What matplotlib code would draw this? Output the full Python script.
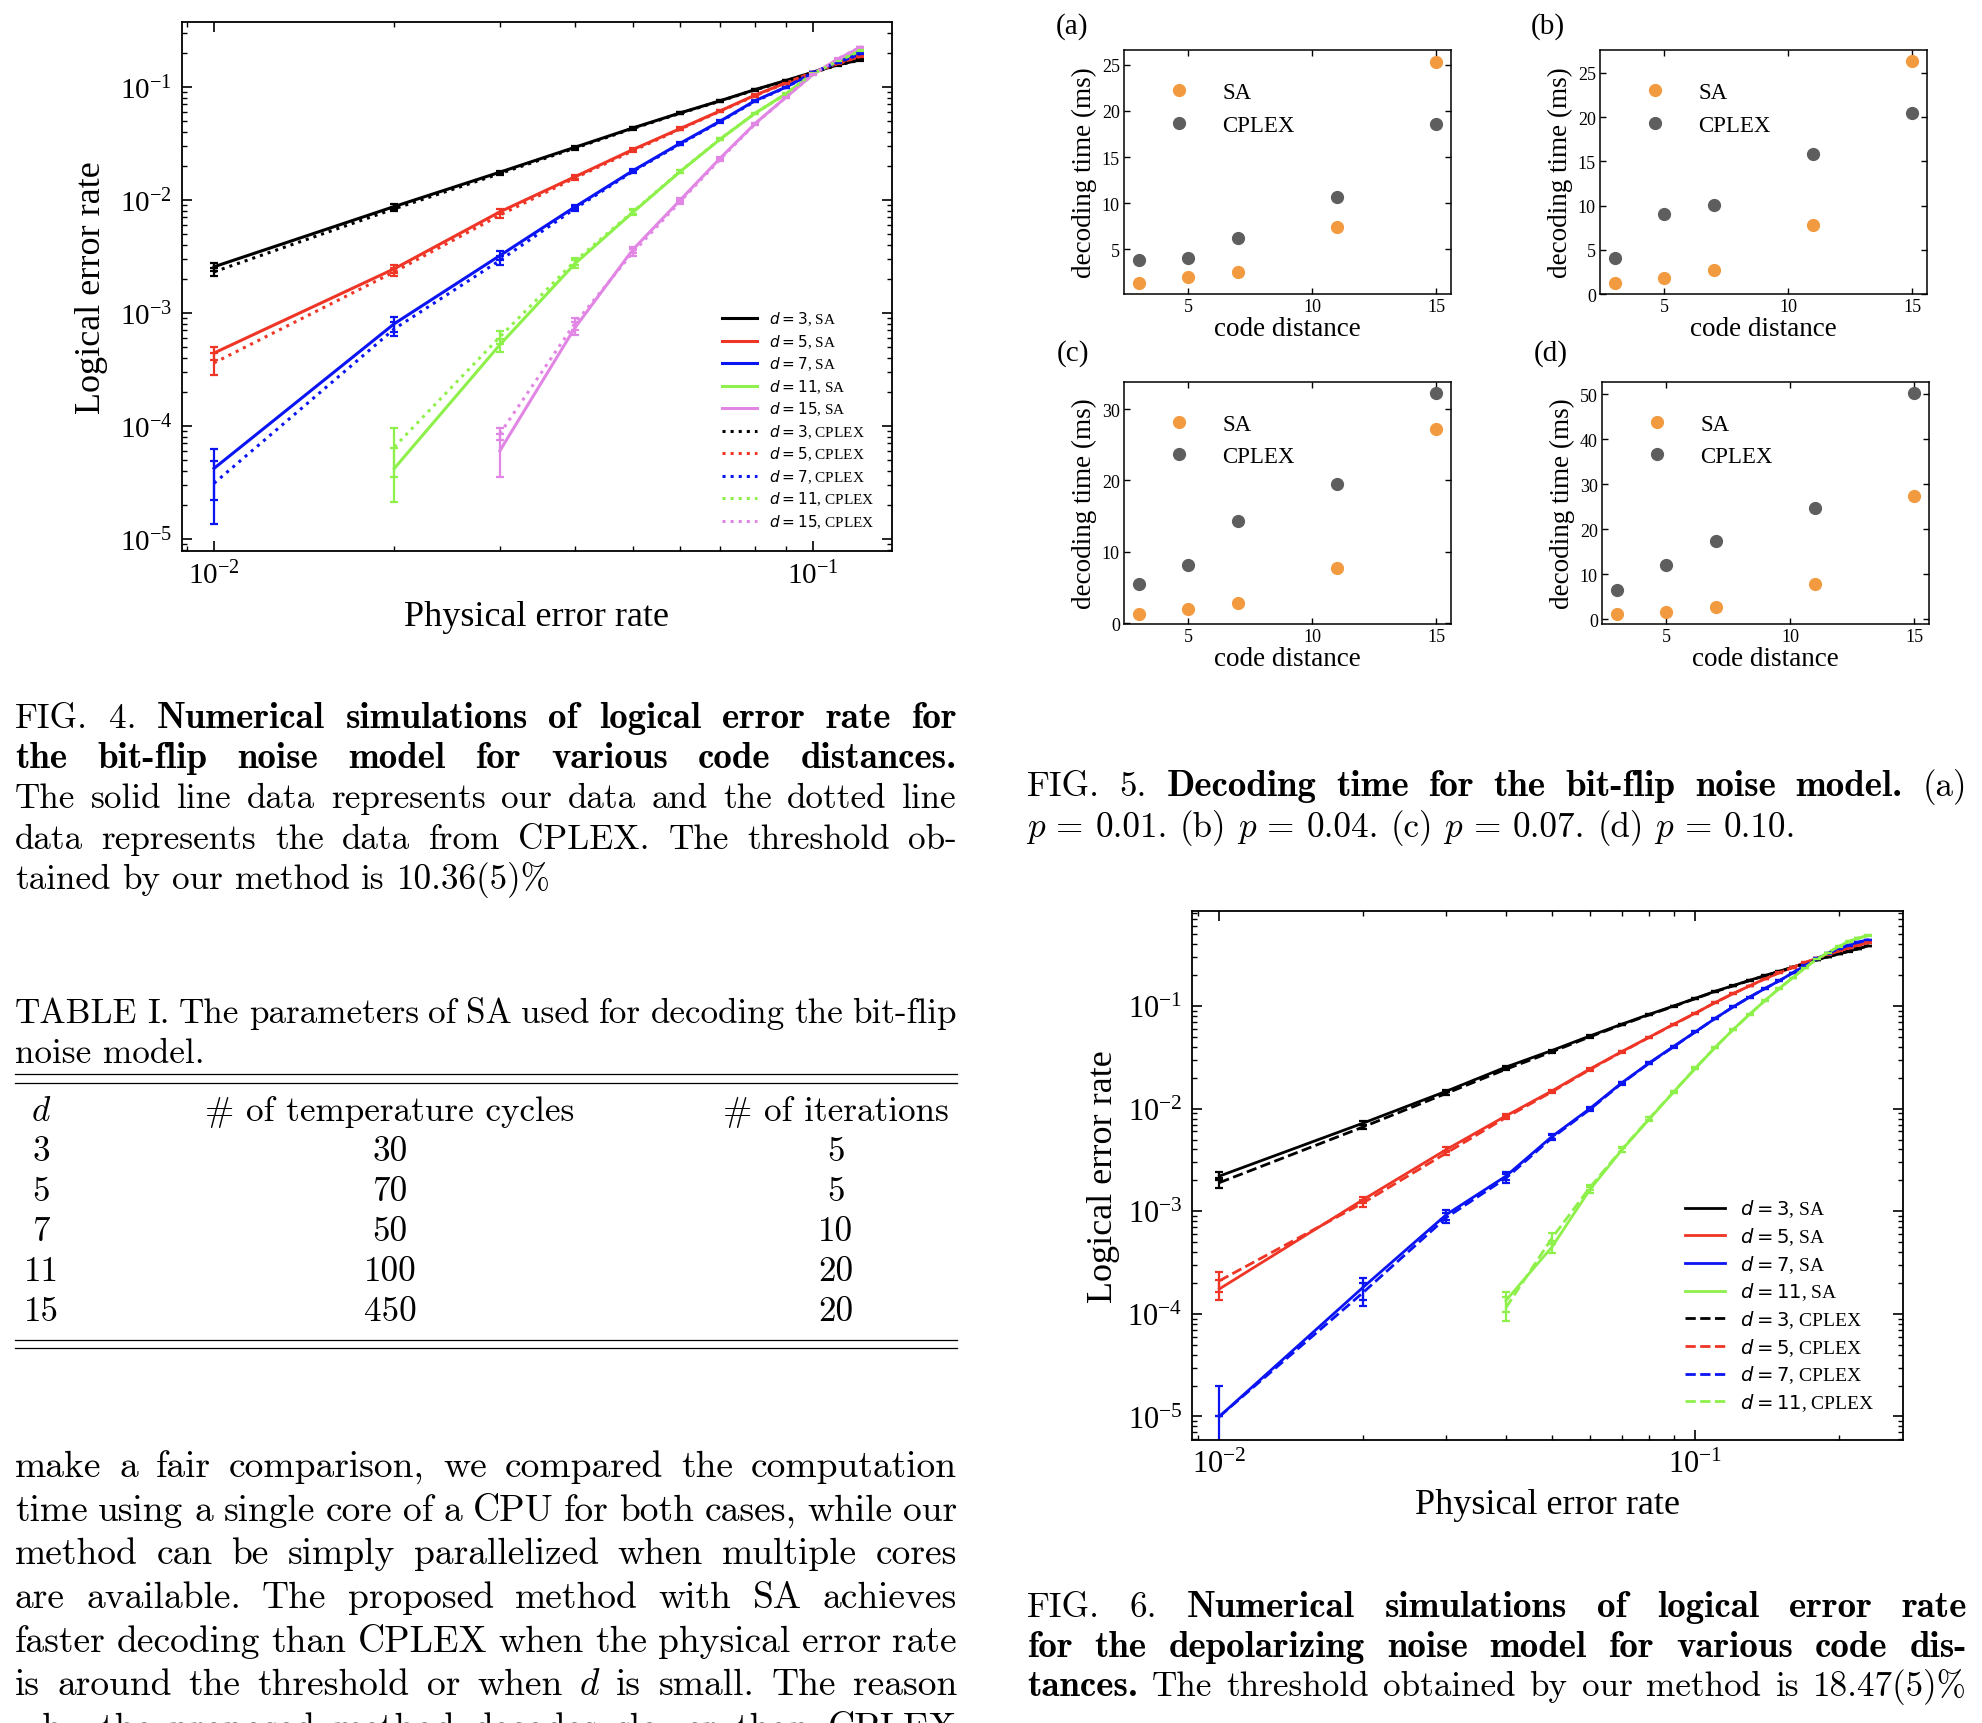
import numpy as np
import matplotlib
matplotlib.use('Agg')
import matplotlib.pyplot as plt
from matplotlib.ticker import LogLocator, NullFormatter, MultipleLocator, FixedLocator
from matplotlib.font_manager import FontProperties
from matplotlib.lines import Line2D

plt.rcParams['font.family'] = ['Liberation Serif', 'DejaVu Serif']

# ---------------- data: FIG. 4 (bit-flip) ----------------
p4 = [0.01, 0.02, 0.03, 0.04, 0.05, 0.06, 0.07, 0.08, 0.09, 0.10, 0.11, 0.12]
d4_list = [3, 5, 7, 11, 15]
f4_sa_d3 = [2.55e-3, 8.7e-3, 1.75e-2, 2.9e-2, 4.3e-2, 5.85e-2, 7.5e-2, 9.4e-2, 0.113, 0.134, 0.156, 0.173]
f4_sa_d5 = [4.4e-4, 2.45e-3, 7.8e-3, 1.59e-2, 2.77e-2, 4.25e-2, 6.1e-2, 8.4e-2, 0.1076, 0.134, 0.160, 0.186]
f4_sa_d7 = [4.2e-5, 8.0e-4, 3.2e-3, 8.6e-3, 1.8e-2, 3.15e-2, 4.95e-2, 7.5e-2, 0.0986, 0.133, 0.163, 0.195]
f4_sa_d11 = [4.2e-5, 5.2e-4, 2.7e-3, 7.7e-3, 1.77e-2, 3.43e-2, 5.8e-2, 8.6e-2, 0.130, 0.168, 0.208]
f4_sa_d15 = [6.0e-5, 7.3e-4, 3.6e-3, 9.9e-3, 2.33e-2, 4.7e-2, 8.0e-2, 0.128, 0.175, 0.223]
f4_cp_d3 = [2.3e-3, 8.3e-3, 1.7e-2, 2.85e-2, 4.25e-2, 5.8e-2, 7.45e-2, 9.35e-2, 0.112, 0.133, 0.155, 0.172]
f4_cp_d5 = [3.6e-4, 2.3e-3, 7.3e-3, 1.55e-2, 2.7e-2, 4.2e-2, 6.05e-2, 8.3e-2, 0.107, 0.133, 0.160, 0.185]
f4_cp_d7 = [3.1e-5, 7.2e-4, 2.9e-3, 8.3e-3, 1.77e-2, 3.1e-2, 4.9e-2, 7.4e-2, 0.098, 0.133, 0.164, 0.196]
f4_cp_d11 = [6.5e-5, 6.1e-4, 2.85e-3, 7.8e-3, 1.78e-2, 3.45e-2, 5.8e-2, 8.6e-2, 0.130, 0.169, 0.209]
f4_cp_d15 = [8.5e-5, 8.0e-4, 3.4e-3, 9.6e-3, 2.28e-2, 4.65e-2, 8.0e-2, 0.128, 0.176, 0.224]
f4_sa_e3 = [2e-4, 4e-4, 6e-4, 8e-4, 1e-3, 1.2e-3, 1.3e-3, 1.5e-3, 1.6e-3, 1.7e-3, 1.8e-3, 1.9e-3]
f4_sa_e5 = [6e-5, 2e-4, 4e-4, 6e-4, 8e-4, 1e-3, 1.2e-3, 1.4e-3, 1.6e-3, 1.7e-3, 1.8e-3, 1.9e-3]
f4_sa_e7 = [2e-5, 1.2e-4, 3e-4, 4e-4, 6e-4, 8e-4, 1e-3, 1.3e-3, 1.5e-3, 1.7e-3, 1.8e-3, 1.9e-3]
f4_sa_e11 = [2.1e-5, 7e-5, 2e-4, 4e-4, 6e-4, 8e-4, 1e-3, 1.3e-3, 1.6e-3, 1.8e-3, 1.9e-3]
f4_sa_e15 = [2.5e-5, 1e-4, 2.5e-4, 4e-4, 6e-4, 8e-4, 1.1e-3, 1.4e-3, 1.7e-3, 1.9e-3]
f4_cp_e3 = [2e-4, 4e-4, 6e-4, 8e-4, 1e-3, 1.2e-3, 1.3e-3, 1.5e-3, 1.6e-3, 1.7e-3, 1.8e-3, 1.9e-3]
f4_cp_e5 = [8e-5, 2e-4, 4e-4, 6e-4, 8e-4, 1e-3, 1.2e-3, 1.4e-3, 1.6e-3, 1.7e-3, 1.8e-3, 1.9e-3]
f4_cp_e7 = [1.75e-5, 1e-4, 2.5e-4, 4e-4, 6e-4, 8e-4, 1e-3, 1.3e-3, 1.5e-3, 1.7e-3, 1.8e-3, 1.9e-3]
f4_cp_e11 = [3e-5, 8e-5, 2e-4, 4e-4, 6e-4, 8e-4, 1e-3, 1.3e-3, 1.6e-3, 1.8e-3, 1.9e-3]
f4_cp_e15 = [1e-5, 1e-4, 2.5e-4, 4e-4, 6e-4, 8e-4, 1.1e-3, 1.4e-3, 1.7e-3, 1.9e-3]

# ---------------- data: FIG. 5 (decoding time, ms) ----------------
code_d = [3, 5, 7, 11, 15]
panel_tags = ['(a)', '(b)', '(c)', '(d)']
t_sa_a = [1.36, 2.04, 2.52, 7.38, 25.35]
t_cp_a = [3.79, 4.03, 6.2, 10.68, 18.6]
t_sa_b = [1.27, 1.77, 2.73, 7.75, 26.3]
t_cp_b = [4.05, 9.0, 10.1, 15.85, 20.45]
t_sa_c = [1.31, 2.0, 2.81, 7.69, 27.2]
t_cp_c = [5.5, 8.19, 14.25, 19.5, 32.25]
t_sa_d = [1.28, 1.58, 2.67, 7.8, 27.4]
t_cp_d = [6.5, 12.06, 17.5, 24.8, 50.2]

# ---------------- data: FIG. 6 (depolarizing) ----------------
p6 = [0.01, 0.02, 0.03, 0.04, 0.05, 0.06, 0.07, 0.08, 0.09, 0.10, 0.11, 0.12,
      0.13, 0.14, 0.15, 0.16, 0.17, 0.18, 0.19, 0.20, 0.21, 0.22, 0.23]
d6_list = [3, 5, 7, 11]
f6_sa_d3 = [2.2e-3, 7.2e-3, 1.48e-2, 2.54e-2, 3.69e-2, 5.1e-2, 6.64e-2, 8.3e-2, 0.100, 0.119, 0.139,
            0.158, 0.178, 0.198, 0.218, 0.239, 0.260, 0.282, 0.302, 0.322, 0.342, 0.362, 0.385]
f6_sa_d5 = [1.75e-4, 1.29e-3, 4.0e-3, 8.5e-3, 1.49e-2, 2.43e-2, 3.59e-2, 4.97e-2, 6.64e-2, 8.53e-2, 0.108,
            0.132, 0.157, 0.184, 0.211, 0.238, 0.265, 0.292, 0.318, 0.343, 0.367, 0.391, 0.415]
f6_sa_d7 = [1.0e-5, 1.8e-4, 9.3e-4, 2.2e-3, 5.36e-3, 1.0e-2, 1.78e-2, 2.79e-2, 4.04e-2, 5.6e-2, 7.56e-2,
            9.8e-2, 0.122, 0.148, 0.176, 0.210, 0.248, 0.289, 0.326, 0.360, 0.390, 0.418, 0.440]
f6_sa_d11 = [1.35e-4, 4.5e-4, 1.62e-3, 3.94e-3, 7.9e-3, 1.45e-2, 2.47e-2, 3.94e-2, 5.88e-2, 8.3e-2,
             0.113, 0.148, 0.188, 0.236, 0.287, 0.330, 0.380, 0.425, 0.458, 0.485]
f6_cp_d3 = [1.9e-3, 6.6e-3, 1.41e-2, 2.42e-2, 3.58e-2, 5.0e-2, 6.55e-2, 8.2e-2, 0.099, 0.118, 0.138,
            0.157, 0.177, 0.197, 0.217, 0.238, 0.259, 0.281, 0.301, 0.321, 0.341, 0.361, 0.384]
f6_cp_d5 = [2.1e-4, 1.2e-3, 3.7e-3, 8.2e-3, 1.46e-2, 2.4e-2, 3.56e-2, 4.95e-2, 6.6e-2, 8.5e-2, 0.108,
            0.132, 0.157, 0.184, 0.211, 0.238, 0.265, 0.292, 0.318, 0.343, 0.367, 0.391, 0.415]
f6_cp_d7 = [1.0e-5, 1.6e-4, 8.7e-4, 2.1e-3, 5.2e-3, 9.8e-3, 1.76e-2, 2.77e-2, 4.0e-2, 5.6e-2, 7.56e-2,
            9.8e-2, 0.122, 0.148, 0.176, 0.210, 0.248, 0.289, 0.326, 0.360, 0.390, 0.418, 0.440]
f6_cp_d11 = [1.15e-4, 5.5e-4, 1.7e-3, 4.0e-3, 8.0e-3, 1.46e-2, 2.48e-2, 3.95e-2, 5.88e-2, 8.3e-2,
             0.113, 0.148, 0.188, 0.236, 0.287, 0.330, 0.380, 0.425, 0.458, 0.485]
f6_sa_e3 = [2e-4, 3e-4, 4e-4, 5e-4, 6e-4, 7e-4, 8e-4, 9e-4, 1e-3, 1.1e-3, 1.2e-3, 1.3e-3, 1.3e-3,
            1.4e-3, 1.4e-3, 1.5e-3, 1.5e-3, 1.5e-3, 1.6e-3, 1.6e-3, 1.6e-3, 1.6e-3, 1.7e-3]
f6_sa_e5 = [4e-5, 1e-4, 2e-4, 3e-4, 4e-4, 5e-4, 6e-4, 7e-4, 8e-4, 9e-4, 1e-3, 1.1e-3, 1.2e-3,
            1.3e-3, 1.4e-3, 1.5e-3, 1.5e-3, 1.5e-3, 1.6e-3, 1.6e-3, 1.6e-3, 1.6e-3, 1.7e-3]
f6_sa_e7 = [9.9e-6, 4.5e-5, 1e-4, 2e-4, 3e-4, 4e-4, 5e-4, 6e-4, 7e-4, 8e-4, 9e-4, 1e-3, 1.1e-3,
            1.2e-3, 1.3e-3, 1.4e-3, 1.5e-3, 1.5e-3, 1.6e-3, 1.6e-3, 1.6e-3, 1.6e-3, 1.7e-3]
f6_sa_e11 = [3e-5, 6e-5, 1e-4, 2e-4, 3e-4, 4e-4, 5e-4, 6e-4, 7e-4, 8e-4, 9e-4, 1e-3, 1.1e-3,
             1.2e-3, 1.3e-3, 1.4e-3, 1.5e-3, 1.6e-3, 1.6e-3, 1.7e-3]
f6_cp_e3 = [2e-4, 3e-4, 4e-4, 5e-4, 6e-4, 7e-4, 8e-4, 9e-4, 1e-3, 1.1e-3, 1.2e-3, 1.3e-3, 1.3e-3,
            1.4e-3, 1.4e-3, 1.5e-3, 1.5e-3, 1.5e-3, 1.6e-3, 1.6e-3, 1.6e-3, 1.6e-3, 1.7e-3]
f6_cp_e5 = [4.5e-5, 1e-4, 2e-4, 3e-4, 4e-4, 5e-4, 6e-4, 7e-4, 8e-4, 9e-4, 1e-3, 1.1e-3, 1.2e-3,
            1.3e-3, 1.4e-3, 1.5e-3, 1.5e-3, 1.5e-3, 1.6e-3, 1.6e-3, 1.6e-3, 1.6e-3, 1.7e-3]
f6_cp_e7 = [0.0, 4e-5, 1e-4, 2e-4, 3e-4, 4e-4, 5e-4, 6e-4, 7e-4, 8e-4, 9e-4, 1e-3, 1.1e-3,
            1.2e-3, 1.3e-3, 1.4e-3, 1.5e-3, 1.5e-3, 1.6e-3, 1.6e-3, 1.6e-3, 1.6e-3, 1.7e-3]
f6_cp_e11 = [3e-5, 7e-5, 1e-4, 2e-4, 3e-4, 4e-4, 5e-4, 6e-4, 7e-4, 8e-4, 9e-4, 1e-3, 1.1e-3,
             1.2e-3, 1.3e-3, 1.4e-3, 1.5e-3, 1.6e-3, 1.6e-3, 1.7e-3]

# ---------------- table ----------------
tab_header = ['d', '# of temperature cycles', '# of iterations']
tab_d = ['3', '5', '7', '11', '15']
tab_cycles = ['30', '70', '50', '100', '450']
tab_iters = ['5', '5', '10', '20', '20']

# ---------------- styling ----------------
W, H = 1982, 1724
COLORS = ['#000000', '#ee3526', '#0b14f2', '#8ef04a', '#e186e4']
ORANGE = '#f29a3f'
GRAY = '#5e5e5e'

fig = plt.figure(figsize=(W / 100, H / 100), dpi=100)


def axrect(x0, y0, x1, y1):
    return [x0 / W, 1 - y1 / H, (x1 - x0) / W, (y1 - y0) / H]


def style_log_axes(ax, tsize):
    ax.set_xscale('log')
    ax.set_yscale('log')
    ax.yaxis.set_major_locator(LogLocator(base=10, numticks=20))
    ax.yaxis.set_minor_locator(LogLocator(base=10, subs=np.arange(2, 10), numticks=20))
    ax.xaxis.set_major_locator(LogLocator(base=10, numticks=20))
    ax.xaxis.set_minor_locator(LogLocator(base=10, subs=np.arange(2, 10), numticks=20))
    ax.xaxis.set_minor_formatter(NullFormatter())
    ax.yaxis.set_minor_formatter(NullFormatter())
    ax.tick_params(which='both', direction='in', top=True, right=True)
    ax.tick_params(which='major', length=7, width=1.2, labelsize=tsize, pad=7)
    ax.tick_params(which='minor', length=3.5, width=1.0)
    for s in ax.spines.values():
        s.set_linewidth(1.3)


# ---------------- FIG. 4 ----------------
ax4 = fig.add_axes(axrect(182, 23, 892, 552))
style_log_axes(ax4, 21)
sa4 = [f4_sa_d3, f4_sa_d5, f4_sa_d7, f4_sa_d11, f4_sa_d15]
cp4 = [f4_cp_d3, f4_cp_d5, f4_cp_d7, f4_cp_d11, f4_cp_d15]
sa4e = [f4_sa_e3, f4_sa_e5, f4_sa_e7, f4_sa_e11, f4_sa_e15]
cp4e = [f4_cp_e3, f4_cp_e5, f4_cp_e7, f4_cp_e11, f4_cp_e15]
h4 = []
for d, c, ys, es in zip(d4_list, COLORS, sa4, sa4e):
    xs = p4[len(p4) - len(ys):]
    ln, = ax4.plot(xs, ys, '-', color=c, lw=2.2, label=f'$d={d}$, SA')
    ax4.errorbar(xs, ys, yerr=es, fmt='none', ecolor=c, elinewidth=1.6, capsize=3, capthick=1.6)
    h4.append(ln)
for d, c, ys, es in zip(d4_list, COLORS, cp4, cp4e):
    xs = p4[len(p4) - len(ys):]
    ln, = ax4.plot(xs, ys, ':', color=c, lw=2.2, label=f'$d={d}$, CPLEX')
    ax4.errorbar(xs, ys, yerr=es, fmt='none', ecolor=c, elinewidth=1.6, capsize=3, capthick=1.6)
    h4.append(ln)
ax4.set_xlim(0.00884, 0.1355)
ax4.set_ylim(7.8e-6, 0.373)
ax4.set_xlabel('Physical error rate', fontsize=26)
ax4.set_ylabel('Logical error rate', fontsize=26)
ax4.xaxis.label.set_va('center')
ax4.yaxis.label.set_va('center')
ax4.xaxis.set_label_coords(0.5, (552 - 617) / 529)
ax4.yaxis.set_label_coords((91 - 182) / 710, 0.5)
ax4.legend(handles=h4, loc='lower right', bbox_to_anchor=(874 / W, 1 - 531 / H),
           bbox_transform=fig.transFigure, frameon=False, fontsize=11,
           handlelength=2.3, handletextpad=0.75, labelspacing=0.32, borderpad=0, borderaxespad=0)

# ---------------- FIG. 5 ----------------
panel_rects = [(1124, 51, 1451, 295), (1600, 51, 1927, 295), (1124, 383, 1451, 625), (1602, 383, 1929, 625)]
sa5 = [t_sa_a, t_sa_b, t_sa_c, t_sa_d]
cp5 = [t_cp_a, t_cp_b, t_cp_c, t_cp_d]
ylims5 = [(0.15, 26.6), (0.0, 27.6), (-0.12, 33.8), (-1.0, 52.7)]
ysteps5 = [5, 5, 10, 10]
tag_pos = [(1072, 27), (1548, 27), (1073, 354), (1551, 354)]
for i in range(4):
    ax = fig.add_axes(axrect(*panel_rects[i]))
    ax.plot(code_d, sa5[i], 'o', color=ORANGE, ms=8.5, label='SA')
    ax.plot(code_d, cp5[i], 'o', color=GRAY, ms=8.5, label='CPLEX')
    ax.set_xlim(2.4, 15.6)
    ax.set_ylim(*ylims5[i])
    ax.xaxis.set_major_locator(FixedLocator([5, 10, 15]))
    ax.yaxis.set_major_locator(MultipleLocator(ysteps5[i]))
    ax.tick_params(direction='in', top=True, right=True, length=4, width=1, labelsize=13, pad=3)
    for s in ax.spines.values():
        s.set_linewidth(1.1)
    ax.set_xlabel('code distance', fontsize=19.5)
    ax.set_ylabel('decoding time (ms)', fontsize=19.5)
    ax.xaxis.label.set_va('center')
    ax.yaxis.label.set_va('center')
    ax.xaxis.set_label_coords(0.5, -35 / 244)
    ax.yaxis.set_label_coords(-40 / 327, 0.5)
    ax.legend(loc='upper left', bbox_to_anchor=(0.098, 0.868), frameon=False, fontsize=16.5,
              handlelength=2.0, handletextpad=0.9, labelspacing=0.5, borderpad=0,
              borderaxespad=0, numpoints=1)
    fig.text(tag_pos[i][0] / W, 1 - tag_pos[i][1] / H, panel_tags[i], fontsize=21,
             ha='center', va='center')

# ---------------- FIG. 6 ----------------
ax6 = fig.add_axes(axrect(1192, 912, 1903, 1441))
style_log_axes(ax6, 22)
sa6 = [f6_sa_d3, f6_sa_d5, f6_sa_d7, f6_sa_d11]
cp6 = [f6_cp_d3, f6_cp_d5, f6_cp_d7, f6_cp_d11]
sa6e = [f6_sa_e3, f6_sa_e5, f6_sa_e7, f6_sa_e11]
cp6e = [f6_cp_e3, f6_cp_e5, f6_cp_e7, f6_cp_e11]
h6 = []
for d, c, ys, es in zip(d6_list, COLORS, sa6, sa6e):
    xs = p6[len(p6) - len(ys):]
    ln, = ax6.plot(xs, ys, '-', color=c, lw=2.0, label=f'$d={d}$, SA')
    ax6.errorbar(xs, ys, yerr=es, fmt='none', ecolor=c, elinewidth=1.6, capsize=3, capthick=1.6)
    h6.append(ln)
for d, c, ys, es in zip(d6_list, COLORS, cp6, cp6e):
    xs = p6[len(p6) - len(ys):]
    ln, = ax6.plot(xs, ys, '--', color=c, lw=2.0, label=f'$d={d}$, CPLEX')
    ax6.errorbar(xs, ys, yerr=es, fmt='none', ecolor=c, elinewidth=1.6, capsize=3, capthick=1.6)
    h6.append(ln)
ax6.set_xlim(0.00876, 0.273)
ax6.set_ylim(5.9e-6, 0.843)
ax6.set_xlabel('Physical error rate', fontsize=26)
ax6.set_ylabel('Logical error rate', fontsize=26)
ax6.xaxis.label.set_va('center')
ax6.yaxis.label.set_va('center')
ax6.xaxis.set_label_coords(0.5, -(1506 - 1441) / 529)
ax6.yaxis.set_label_coords((1103 - 1192) / 711, 0.5)
ax6.legend(handles=h6, loc='lower right', bbox_to_anchor=(1874 / W, 1 - 1414 / H),
           bbox_transform=fig.transFigure, frameon=False, fontsize=14,
           handlelength=2.05, handletextpad=0.75, labelspacing=0.3, borderpad=0, borderaxespad=0)

# ---------------- text (captions, table, body) ----------------
renderer = fig.canvas.get_renderer()
CAP = 25.3
BOLD = 26.6
BODY = 27.0


def fprops(style, size):
    fam = {'r': 'cmr10', 'b': 'cmb10', 'i': 'cmmi10'}[style]
    if style == 'b':
        size = size * BOLD / CAP
    return FontProperties(family=fam, size=size)


def wwidth(s, fp):
    w, h, d = renderer.get_text_width_height_descent(s, fp, ismath=False)
    return w


def toks(*segs):
    out = []
    for st, txt in segs:
        for w in txt.split():
            out.append((w, st))
    return out


def draw_line(tokens, x0, x1, y, size, justify=True):
    fps = [fprops(st, size) for _, st in tokens]
    widths = [wwidth(w, fp) for (w, _), fp in zip(tokens, fps)]
    fr = fprops('r', size)
    space = wwidth('x x', fr) - wwidth('xx', fr)
    if justify and len(tokens) > 1:
        gap = (x1 - x0 - sum(widths)) / (len(tokens) - 1)
    else:
        gap = space
    x = x0
    for (w, st), fp, wd in zip(tokens, fps, widths):
        fig.text(x / W, 1 - y / H, w, fontproperties=fp, ha='left', va='baseline')
        x += wd + gap


def hrule(x0, x1, y, lw=0.9):
    fig.add_artist(Line2D([x0 / W, x1 / W], [1 - y / H, 1 - y / H], transform=fig.transFigure,
                          color='black', lw=lw))


LX0, LX1 = 15, 957
RX0, RX1 = 1027, 1967

# FIG. 4 caption
draw_line(toks(('r', 'FIG. 4.'), ('b', 'Numerical simulations of logical error rate for')), LX0, LX1, 728, CAP)
draw_line(toks(('b', 'the bit-flip noise model for various code distances.')), LX0, LX1, 768, CAP)
draw_line(toks(('r', 'The solid line data represents our data and the dotted line')), LX0, LX1, 808.5, CAP)
draw_line(toks(('r', 'data represents the data from CPLEX. The threshold ob-')), LX0, LX1, 849, CAP)
draw_line(toks(('r', 'tained by our method is 10.36(5)%')), LX0, LX1, 889, CAP, justify=False)

# TABLE I
draw_line(toks(('r', 'TABLE I. The parameters of SA used for decoding the bit-flip')), LX0, LX1, 1023, CAP)
draw_line(toks(('r', 'noise model.')), LX0, LX1, 1063, CAP, justify=False)
hrule(LX0, LX1, 1075)
hrule(LX0, LX1, 1083.6)
hrule(LX0, LX1, 1341)
hrule(LX0, LX1, 1349.3)
col_x = [41, 390, 836]
fig.text(col_x[0] / W, 1 - 1121 / H, tab_header[0], fontproperties=fprops('i', CAP), ha='center', va='baseline')
fig.text(col_x[1] / W, 1 - 1121 / H, tab_header[1], fontproperties=fprops('r', CAP), ha='center', va='baseline')
fig.text(col_x[2] / W, 1 - 1121 / H, tab_header[2], fontproperties=fprops('r', CAP), ha='center', va='baseline')
for k in range(len(tab_d)):
    yb = 1161 + 40 * k
    for cx, val in zip(col_x, [tab_d[k], tab_cycles[k], tab_iters[k]]):
        fig.text(cx / W, 1 - yb / H, val, fontproperties=fprops('r', CAP), ha='center', va='baseline')

# body text
body = [
    toks(('r', 'make a fair comparison, we compared the computation')),
    toks(('r', 'time using a single core of a CPU for both cases, while our')),
    toks(('r', 'method can be simply parallelized when multiple cores')),
    toks(('r', 'are available.  The proposed method with SA achieves')),
    toks(('r', 'faster decoding than CPLEX when the physical error rate')),
    toks(('r', 'is around the threshold or when'), ('i', 'd'), ('r', 'is small.  The reason')),
    toks(('r', 'why the proposed method decodes slower than CPLEX')),
]
for k, line in enumerate(body):
    draw_line(line, LX0, LX1, 1477 + 43.7 * k, BODY)

# FIG. 5 caption
draw_line(toks(('r', 'FIG. 5.'), ('b', 'Decoding time for the bit-flip noise model.'), ('r', '(a)')), RX0, RX1, 796, CAP)
draw_line(toks(('i', 'p'), ('r', '= 0.01. (b)'), ('i', 'p'), ('r', '= 0.04. (c)'), ('i', 'p'),
               ('r', '= 0.07. (d)'), ('i', 'p'), ('r', '= 0.10.')), RX0, RX1, 837, CAP, justify=False)

# FIG. 6 caption
draw_line(toks(('r', 'FIG. 6.'), ('b', 'Numerical simulations of logical error rate')), RX0, RX1, 1617, CAP)
draw_line(toks(('b', 'for the depolarizing noise model for various code dis-')), RX0, RX1, 1657, CAP)
draw_line(toks(('b', 'tances.'), ('r', 'The threshold obtained by our method is 18.47(5)%')), RX0, RX1, 1696, CAP)

fig.savefig('out.png', dpi=100)
